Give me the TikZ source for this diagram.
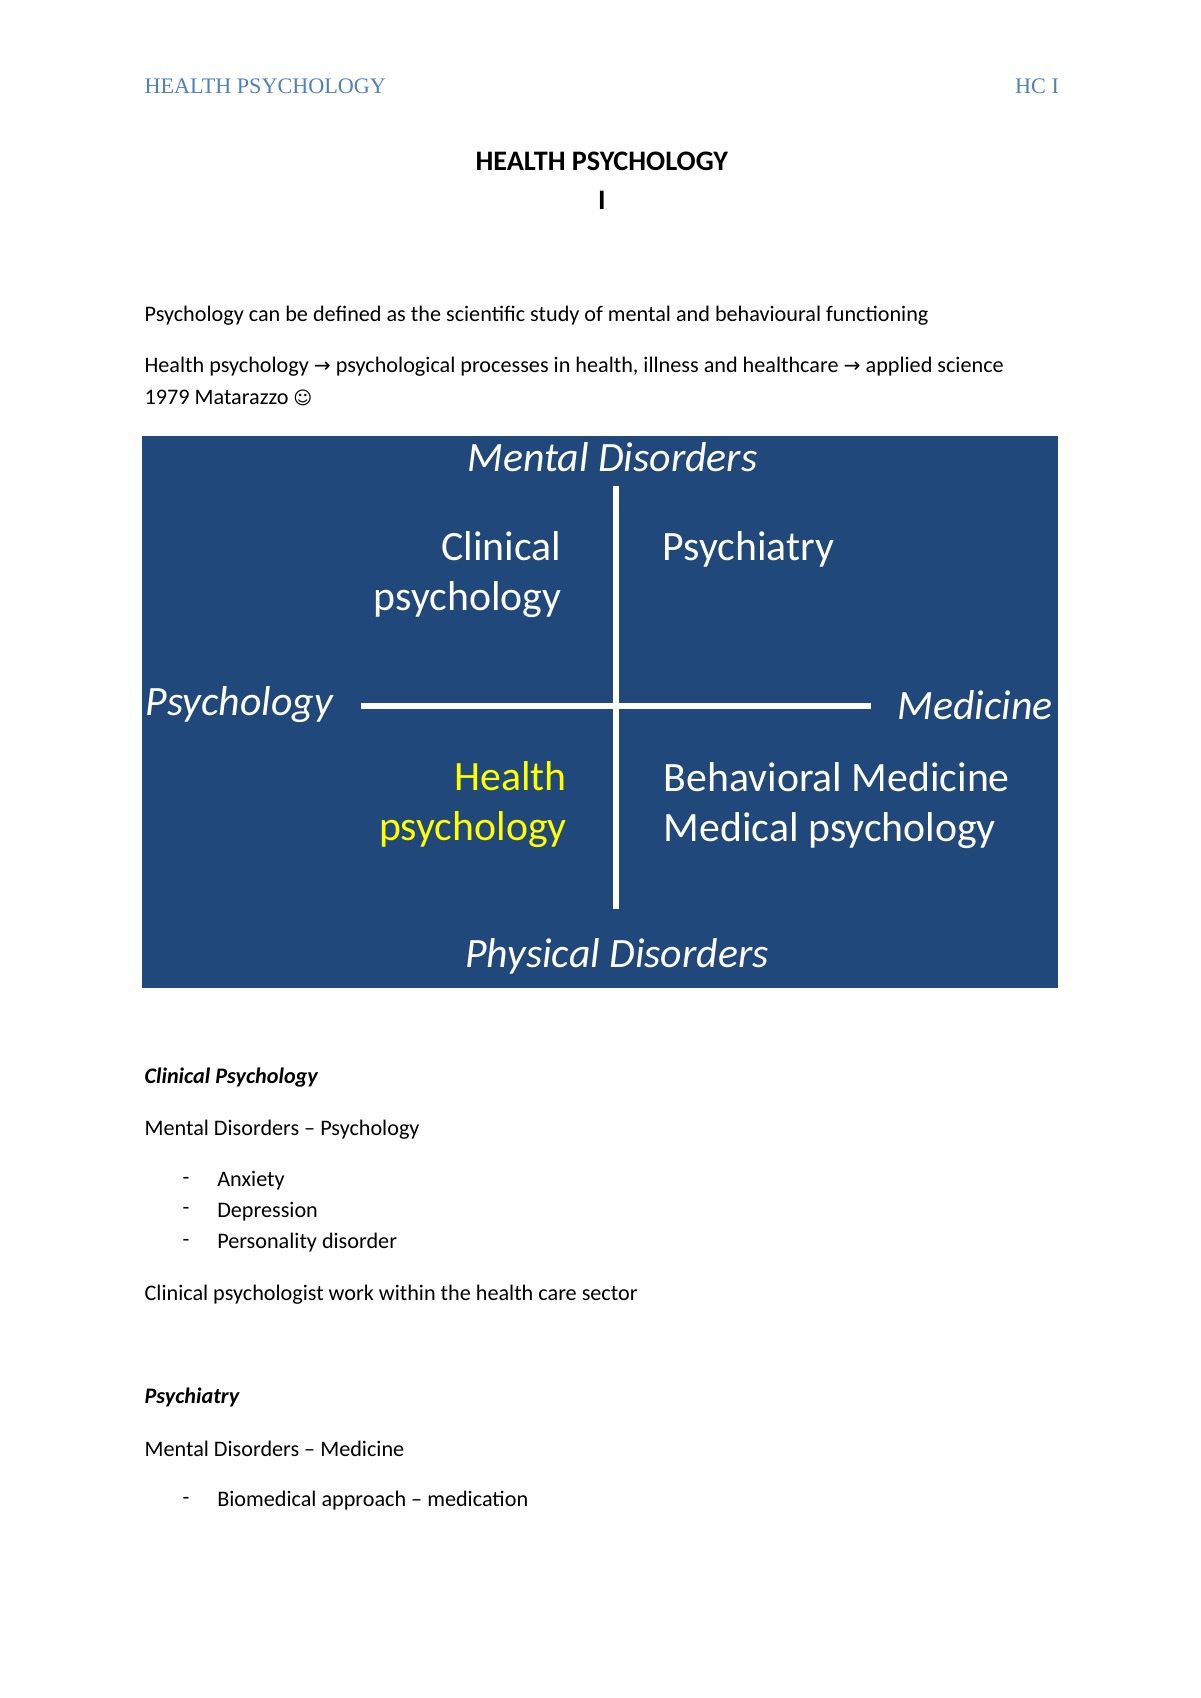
\documentclass[tikz,border=0pt]{standalone}
\usepackage{fontspec}
\setmainfont{Carlito}
\newfontfamily\hdr{Liberation Serif}
\newfontfamily\sym{DejaVu Sans}
\definecolor{hblue}{HTML}{4F81BD}
\definecolor{boxblue}{HTML}{21487A}
\definecolor{hyel}{HTML}{FFFF00}
\begin{document}
\begin{tikzpicture}[x=0.5375pt,y=-0.5375pt,
  every node/.style={inner sep=0pt},
  body/.style={anchor=west,font=\fontsize{11}{13}\selectfont},
  big/.style={text=white,font=\fontsize{20.7}{25}\selectfont},
  wline/.style={white,line width=3.2pt}]
\useasboundingbox[fill=white] (0,0) rectangle (1107,1566);
\node[anchor=west,text=hblue,font=\hdr\fontsize{11}{13}\selectfont] (h1) at (133,80) {HEALTH PSYCHOLOGY};
\node[anchor=east,text=hblue,font=\hdr\fontsize{11}{13}\selectfont] (h2) at (977,80) {HC I};
\node[font=\fontsize{14}{16}\selectfont\bfseries] (t1) at (555,149) {HEALTH PSYCHOLOGY};
\node[font=\fontsize{14}{16}\selectfont\bfseries] (t2) at (555,185) {I};
\node[body] (p1) at (133,291) {Psychology can be defined as the scientific study of mental and behavioural functioning};
\node[body] (p2) at (133,338) {Health psychology {\sym\fontsize{10}{11}\selectfont →} psychological processes in health, illness and healthcare {\sym\fontsize{10}{11}\selectfont →} applied science};
\node[body] (p3) at (133,367) {1979 Matarazzo {\sym\fontsize{9}{11}\selectfont ☺}};
% diagram
\fill[boxblue] (131,402) rectangle (976,911);
\coordinate (vt) at (568,448); \coordinate (vb) at (568,838);
\coordinate (hl) at (333,651); \coordinate (hr) at (803,651);
\draw[wline] (vt) -- (vb);
\draw[wline] (hl) -- (hr);
\node[big,font=\fontsize{20.7}{25}\selectfont\itshape] (md) at (565,422) {Mental Disorders};
\node[big,font=\fontsize{20.7}{25}\selectfont\itshape] (pd) at (569,882) {Physical Disorders};
\node[big,anchor=west,font=\fontsize{20.7}{25}\selectfont\itshape] (ps) at (134,650) {Psychology};
\node[big,anchor=east,font=\fontsize{20.7}{25}\selectfont\itshape] (me) at (971,650) {Medicine};
\node[big,align=right,anchor=east,font=\fontsize{20.7}{25}\selectfont] (cp) at (518,530) {Clinical\\psychology};
\node[big,anchor=west] (py) at (611,507) {Psychiatry};
\node[big,align=right,anchor=east,text=hyel,font=\fontsize{20.7}{25}\selectfont] (hp) at (523,742) {Health\\psychology};
\node[big,align=left,anchor=west,font=\fontsize{20.7}{25}\selectfont] (bm) at (612,743) {Behavioral Medicine\\Medical psychology};
% lower text
\node[body,font=\fontsize{11}{13}\selectfont\bfseries\itshape] (s1) at (133,994) {Clinical Psychology};
\node[body] (l1) at (133,1042) {Mental Disorders – Psychology};
\node[body] (d1) at (168,1089) {-}; \node[body] (b1) at (200,1089) {Anxiety};
\node[body] (d2) at (168,1117) {-}; \node[body] (b2) at (200,1117) {Depression};
\node[body] (d3) at (168,1146) {-}; \node[body] (b3) at (200,1146) {Personality disorder};
\node[body] (l2) at (133,1194) {Clinical psychologist work within the health care sector};
\node[body,font=\fontsize{11}{13}\selectfont\bfseries\itshape] (s2) at (133,1289) {Psychiatry};
\node[body] (l3) at (133,1336) {Mental Disorders – Medicine};
\node[body] (d4) at (168,1384) {-}; \node[body] (b4) at (200,1384) {Biomedical approach – medication};
\end{tikzpicture}
\end{document}
